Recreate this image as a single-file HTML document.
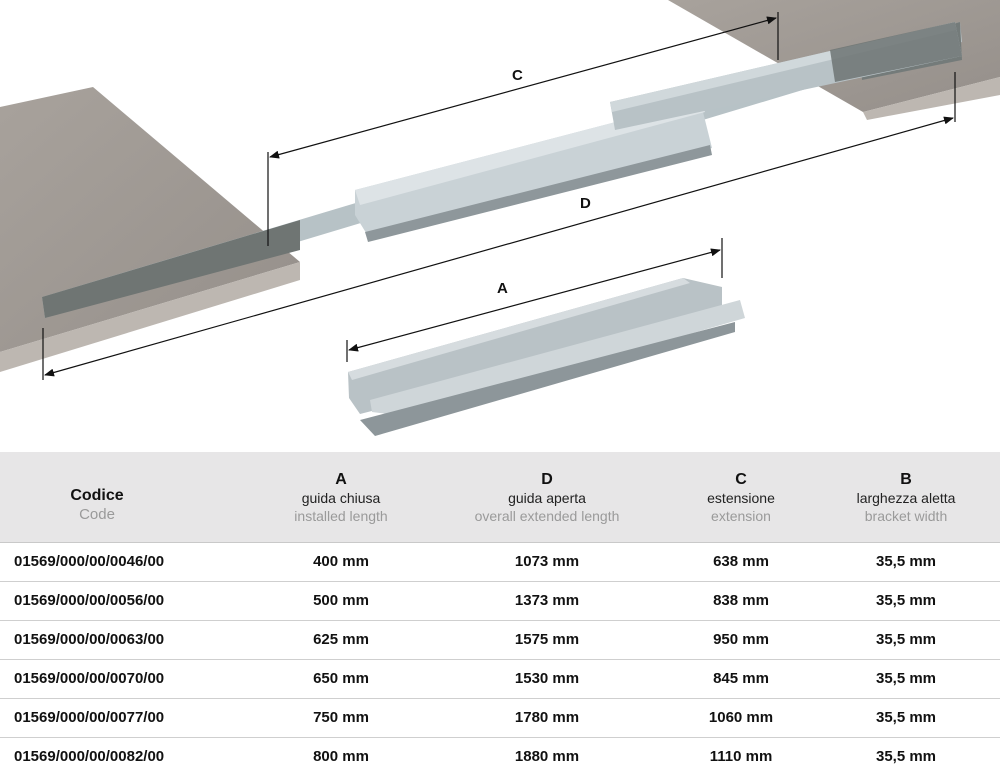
<!DOCTYPE html>
<html><head><meta charset="utf-8"><style>
html,body{margin:0;padding:0;background:#fff;}
body{width:1000px;height:780px;position:relative;overflow:hidden;font-family:"Liberation Sans",Arial,sans-serif;}
svg{position:absolute;left:0;top:0;}
.hdr{position:absolute;left:0;top:452px;width:1000px;height:90px;background:#e7e6e7;border-bottom:1px solid #c9c9c9;}
.h{position:absolute;text-align:center;color:#222;font-size:14px;line-height:18px;transform:translateX(-50%);white-space:nowrap;}
.h b{font-size:16px;color:#111;}
.h .g{color:#9a9a9a;}
.row{position:absolute;left:0;width:1000px;height:39px;border-bottom:1px solid #cfcfcf;font-weight:bold;font-size:15px;color:#111;}
.row span{position:absolute;top:11px;transform:translateX(-50%);white-space:nowrap;}
.row span.c{left:14px;transform:none;}
</style></head><body>
<svg width="1000" height="450" viewBox="0 0 1000 450">
<defs>
<linearGradient id="wood" x1="0" y1="0" x2="1" y2="1"><stop offset="0" stop-color="#a8a29c"/><stop offset="1" stop-color="#958f8a"/></linearGradient>
<marker id="ar" markerWidth="10" markerHeight="8" refX="9" refY="4" orient="auto" markerUnits="userSpaceOnUse"><path d="M0,0 L10,4 L0,8z" fill="#111"/></marker>
<marker id="al" markerWidth="10" markerHeight="8" refX="1" refY="4" orient="auto" markerUnits="userSpaceOnUse"><path d="M10,0 L0,4 L10,8z" fill="#111"/></marker>
</defs>
<!-- left board -->
<polygon points="0,107 93,87 300,262 0,352" fill="url(#wood)"/>
<polygon points="0,352 300,262 300,280 0,372" fill="#bdb7b1"/>
<!-- right board -->
<polygon points="668,0 1000,0 1000,77 863,112" fill="url(#wood)"/>
<polygon points="863,112 1000,77 1000,95 867,120" fill="#bdb7b1"/>
<!-- long rail narrow strip -->
<polygon points="42,297 960,22 962,42 45,318" fill="#b7c2c6"/>
<polygon points="42,297 300,220 300,250 45,318" fill="#6f7573"/>
<polygon points="860,50 960,22 962,60 862,80" fill="#747b7a"/>
<!-- middle section -->
<polygon points="355,190 700,100 712,148 368,236 355,215" fill="#c9d2d6"/>
<polygon points="355,190 700,100 705,112 360,205" fill="#dde3e6"/>
<polygon points="365,232 710,145 712,155 368,242" fill="#8e979b"/>
<!-- top section -->
<polygon points="610,102 955,22 962,56 615,130" fill="#b8c2c6"/>
<polygon points="610,102 955,22 956,30 612,112" fill="#d0d8db"/>
<polygon points="830,50 955,22 962,56 835,82" fill="#6d7473" opacity="0.85"/>
<!-- small rail -->
<polygon points="348,372 683,278 722,287 722,322 360,414 349,398" fill="#b9c2c6"/>
<polygon points="348,372 683,278 690,283 352,380" fill="#d6dcdf"/>
<polygon points="370,400 740,300 745,318 405,416 372,412" fill="#cfd6d9"/>
<polygon points="360,420 735,322 735,332 375,436" fill="#8d969a"/>
<!-- dimension lines -->
<g stroke="#111" stroke-width="1.2" fill="none">
<line x1="268" y1="152" x2="268" y2="246"/><line x1="778" y1="12" x2="778" y2="60"/>
<line x1="270" y1="157" x2="776" y2="18" marker-start="url(#al)" marker-end="url(#ar)"/>
<line x1="43" y1="328" x2="43" y2="380"/><line x1="955" y1="72" x2="955" y2="122"/>
<line x1="45" y1="375" x2="953" y2="118" marker-start="url(#al)" marker-end="url(#ar)"/>
<line x1="347" y1="340" x2="347" y2="362"/><line x1="722" y1="238" x2="722" y2="278"/>
<line x1="349" y1="350" x2="720" y2="250" marker-start="url(#al)" marker-end="url(#ar)"/>
</g>
<g font-family="Liberation Sans,Arial,sans-serif" font-weight="bold" font-size="15" fill="#111">
<text x="512" y="80">C</text><text x="580" y="208">D</text><text x="497" y="293">A</text>
</g>
</svg>
<div class="hdr"></div>
<div class="h" style="left:97px;top:486px;"><b>Codice</b><br><span class="g" style="font-size:15px">Code</span></div>
<div class="h" style="left:341px;top:470px;"><b>A</b><br>guida chiusa<br><span class="g">installed length</span></div>
<div class="h" style="left:547px;top:470px;"><b>D</b><br>guida aperta<br><span class="g">overall extended length</span></div>
<div class="h" style="left:741px;top:470px;"><b>C</b><br>estensione<br><span class="g">extension</span></div>
<div class="h" style="left:906px;top:470px;"><b>B</b><br>larghezza aletta<br><span class="g">bracket width</span></div>
<div class="row" style="top:542px"><span class="c">01569/000/00/0046/00</span><span style="left:341px">400 mm</span><span style="left:547px">1073 mm</span><span style="left:741px">638 mm</span><span style="left:906px">35,5 mm</span></div>
<div class="row" style="top:581px"><span class="c">01569/000/00/0056/00</span><span style="left:341px">500 mm</span><span style="left:547px">1373 mm</span><span style="left:741px">838 mm</span><span style="left:906px">35,5 mm</span></div>
<div class="row" style="top:620px"><span class="c">01569/000/00/0063/00</span><span style="left:341px">625 mm</span><span style="left:547px">1575 mm</span><span style="left:741px">950 mm</span><span style="left:906px">35,5 mm</span></div>
<div class="row" style="top:659px"><span class="c">01569/000/00/0070/00</span><span style="left:341px">650 mm</span><span style="left:547px">1530 mm</span><span style="left:741px">845 mm</span><span style="left:906px">35,5 mm</span></div>
<div class="row" style="top:698px"><span class="c">01569/000/00/0077/00</span><span style="left:341px">750 mm</span><span style="left:547px">1780 mm</span><span style="left:741px">1060 mm</span><span style="left:906px">35,5 mm</span></div>
<div class="row" style="top:737px;border-bottom:none"><span class="c">01569/000/00/0082/00</span><span style="left:341px">800 mm</span><span style="left:547px">1880 mm</span><span style="left:741px">1110 mm</span><span style="left:906px">35,5 mm</span></div>
</body></html>
